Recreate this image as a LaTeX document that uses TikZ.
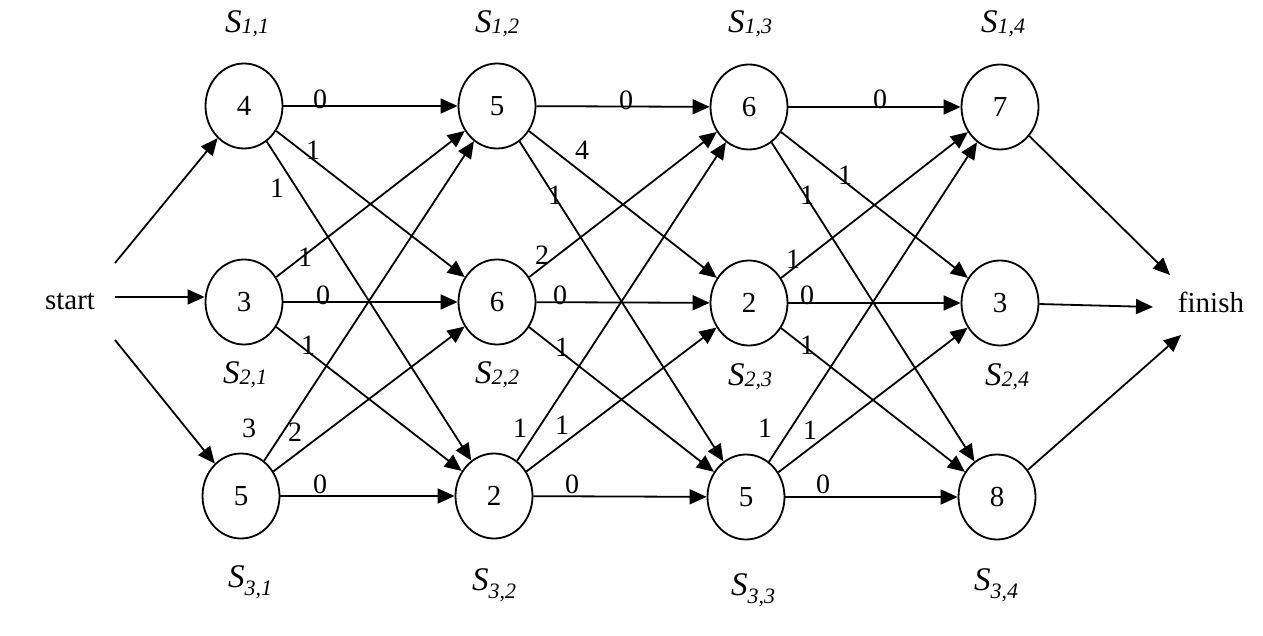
\documentclass[tikz,border=0pt]{standalone}
\usepackage{fontspec}
\setmainfont{Liberation Serif}
\usetikzlibrary{arrows.meta,shapes.geometric}
\newcommand\Slab[2]{\textit{S}\raisebox{#2}{\fontsize{22}{22}\selectfont\textit{#1}}}
\tikzset{
  st/.style={draw,ellipse,line width=1.8pt,minimum width=77pt,minimum height=85pt,inner sep=0pt,font=\fontsize{29}{29}\selectfont},
  arr/.style={line width=1.8pt,-{Triangle[length=17pt,width=15pt]}},
  lab/.style={inner sep=0pt,font=\fontsize{28}{28}\selectfont},
  slab/.style={inner sep=0pt,font=\fontsize{33}{33}\selectfont},
  word/.style={inner sep=0pt,font=\fontsize{29}{29}\selectfont}
}
\begin{document}
\begin{tikzpicture}[x=1pt,y=-1pt]
\useasboundingbox (0,0) rectangle (1263,636);
% states
\node[st] (n11) at (244,106) {4};
\node[st] (n21) at (244,302) {3};
\node[st] (n31) at (241,496) {5};
\node[st] (n12) at (497,106) {5};
\node[st] (n22) at (497,302) {6};
\node[st] (n32) at (494,496) {2};
\node[st] (n13) at (749,107) {6};
\node[st] (n23) at (749,303) {2};
\node[st] (n33) at (746,497) {5};
\node[st] (n14) at (1000,107) {7};
\node[st] (n24) at (1000,303) {3};
\node[st] (n34) at (997,497) {8};
% stage labels
\node[slab] (t11) at (247,24) {\Slab{1,1}{-1pt}};
\node[slab] (t12) at (497,24) {\Slab{1,2}{-1pt}};
\node[slab] (t13) at (750,24) {\Slab{1,3}{-1pt}};
\node[slab] (t14) at (1003,24) {\Slab{1,4}{-1pt}};
\node[slab] (t21) at (245,375) {\Slab{2,1}{-1pt}};
\node[slab] (t22) at (497,375) {\Slab{2,2}{-1pt}};
\node[slab] (t23) at (750,377) {\Slab{2,3}{-1pt}};
\node[slab] (t24) at (1007,377) {\Slab{2,4}{-1pt}};
\node[slab] (t31) at (250,582) {\Slab{3,1}{-8pt}};
\node[slab] (t32) at (494,585) {\Slab{3,2}{-8pt}};
\node[slab] (t33) at (753,590) {\Slab{3,3}{-8pt}};
\node[slab] (t34) at (996,585) {\Slab{3,4}{-8pt}};
% start / finish
\node[word] (start) at (70,301) {start};
\node[word] (finish) at (1211,302) {finish};
\coordinate (s1) at (115,263);
\coordinate (s2) at (115,297);
\coordinate (s3) at (115,340);
\coordinate (f1) at (1170,275);
\coordinate (f2) at (1153,307);
\coordinate (f3) at (1181,335);
\draw[arr] (s1) -- (n11);
\draw[arr] (s2) -- (s2 -| n21.west);
\draw[arr] (s3) -- (n31);
\draw[arr] (n14) -- (f1);
\draw[arr] (n24) -- (f2);
\draw[arr] (n34) -- (f3);
% edges between stages
\foreach \a in {1,2,3}{\foreach \b in {1,2,3}{\draw[arr] (n\a1) -- (n\b2);}}
\foreach \a in {1,2,3}{\foreach \b in {1,2,3}{\draw[arr] (n\a2) -- (n\b3);}}
\foreach \a in {1,2,3}{\foreach \b in {1,2,3}{\draw[arr] (n\a3) -- (n\b4);}}
% weights stage 1 -> 2
\node[lab] (w1) at (320,99) {0};
\node[lab] (w2) at (313,150) {1};
\node[lab] (w3) at (277,188) {1};
\node[lab] (w4) at (305,257) {1};
\node[lab] (w5) at (323,295) {0};
\node[lab] (w6) at (308,345) {1};
\node[lab] (w7) at (249,428) {3};
\node[lab] (w8) at (295,432) {2};
\node[lab] (w9) at (320,484) {0};
% weights stage 2 -> 3
\node[lab] (w10) at (626,100) {0};
\node[lab] (w11) at (582,150) {4};
\node[lab] (w12) at (555,195) {1};
\node[lab] (w13) at (542,255) {2};
\node[lab] (w14) at (560,295) {0};
\node[lab] (w15) at (562,347) {1};
\node[lab] (w16) at (520,428) {1};
\node[lab] (w17) at (562,425) {1};
\node[lab] (w18) at (572,484) {0};
% weights stage 3 -> 4
\node[lab] (w19) at (880,99) {0};
\node[lab] (w20) at (845,175) {1};
\node[lab] (w21) at (807,195) {1};
\node[lab] (w22) at (793,259) {1};
\node[lab] (w23) at (807,295) {0};
\node[lab] (w24) at (807,345) {1};
\node[lab] (w25) at (765,428) {1};
\node[lab] (w26) at (810,430) {1};
\node[lab] (w27) at (823,484) {0};
\end{tikzpicture}
\end{document}
